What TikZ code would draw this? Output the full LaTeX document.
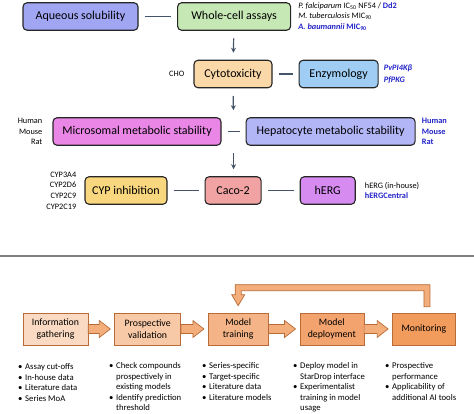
\documentclass[tikz,border=0pt]{standalone}
\usepackage{fontspec}
\setmainfont{Carlito}
\usepackage{tikz}
\usetikzlibrary{arrows.meta,calc,positioning}
\definecolor{slategray}{HTML}{44546A}
\definecolor{azulref}{HTML}{2222C8}
\definecolor{periwinkle}{HTML}{A0A6F2}
\definecolor{mintgreen}{HTML}{C6E8B5}
\definecolor{apricot}{HTML}{FAD8A8}
\definecolor{skyblue}{HTML}{9FCDF3}
\definecolor{orchid}{HTML}{E986E6}
\definecolor{lavender}{HTML}{B2B5F6}
\definecolor{mustard}{HTML}{F9D77E}
\definecolor{salmonpink}{HTML}{F1A3A3}
\definecolor{violeta}{HTML}{D68BF1}
\definecolor{naranjaA}{HTML}{FADAC2}
\definecolor{naranjaB}{HTML}{F8C9A6}
\definecolor{naranjaC}{HTML}{F5B487}
\definecolor{naranjaD}{HTML}{F3A36D}
\definecolor{naranjaE}{HTML}{F19B5D}
\definecolor{naranjaborde}{HTML}{B86B36}
\definecolor{naranjaflecha}{HTML}{F4AE7C}
\newcommand{\bala}{\makebox[7pt][l]{\textbullet}}
\newcommand{\sigue}{\hspace*{7pt}}
\tikzset{
  ensayo/.style={
    rounded corners=4pt,
    draw=black!85,
    line width=1.1pt,
    align=center,
    minimum height=27.5pt,
    inner sep=2pt,
    font=\fontsize{12}{14}\selectfont
  },
  nota/.style={
    inner sep=0pt,
    font=\fontsize{8.3}{10.6}\selectfont
  },
  notaazul/.style={
    inner sep=0pt,
    text=azulref,
    font=\fontsize{8.3}{10.6}\selectfont\bfseries
  },
  enlace/.style={
    line width=1.3pt,
    slategray,
    shorten <=6pt,
    shorten >=6pt
  },
  flecha/.style={
    -{Stealth[length=5pt,width=5pt]},
    line width=1.2pt,
    slategray,
    shorten <=7.5pt,
    shorten >=7pt
  },
  etapa/.style={
    draw=naranjaborde,
    line width=0.6pt,
    align=center,
    minimum height=32pt,
    inner sep=2pt,
    font=\fontsize{9.8}{12.5}\selectfont
  },
  bloque/.style={
    draw=naranjaborde,
    line width=0.7pt,
    fill=naranjaflecha
  },
  vinetas/.style={
    anchor=north west,
    align=left,
    inner sep=0pt,
    font=\fontsize{8.7}{10.5}\selectfont
  }
}

\begin{document}
\begin{tikzpicture}[x=1pt,y=-1pt]
\useasboundingbox (0,0) rectangle (474,414);

% cribado
\node[ensayo,fill=periwinkle,minimum width=115pt] (aq) at (80.5,16.5) {Aqueous solubility};
\node[ensayo,fill=mintgreen,minimum width=113pt,right=38.5pt of aq] (whole) {Whole-cell assays};
\node[ensayo,fill=apricot,minimum width=78pt] (cyto) at (233,74) {Cytotoxicity};
\node[ensayo,fill=skyblue,minimum width=79pt,right=26pt of cyto] (enzy) {Enzymology};
\node[ensayo,fill=orchid,minimum width=168pt] (micro) at (137,131.5) {Microsomal metabolic stability};
\node[ensayo,fill=lavender,minimum width=169pt,right=24pt of micro] (hepato) {Hepatocyte metabolic stability};
\node[ensayo,fill=mustard,minimum width=82pt] (cyp) at (126,190.5) {CYP inhibition};
\node[ensayo,fill=salmonpink,minimum width=56pt,right=37pt of cyp] (caco) {Caco-2};
\node[ensayo,fill=violeta,minimum width=55pt,right=38pt of caco] (herg) {hERG};
\coordinate (nudo) at ($(micro.east)!0.5!(hepato.west)$);

% notas
\node[nota,align=left,right=7pt of whole] (patogenos) {\textit{P. falciparum} IC\textsubscript{50} NF54 / \textcolor{azulref}{\textbf{Dd2}}\\\textit{M. tuberculosis} MIC\textsubscript{90}\\\textcolor{azulref}{\textbf{\textit{A. baumannii} MIC\textsubscript{90}}}};
\node[nota,left=9pt of cyto] (cho) {CHO};
\node[notaazul,align=left,right=5pt of enzy] (dianas) {\textit{PvPI4Kβ}\\[1pt]\textit{PfPKG}};
\node[nota,align=right,left=10pt of micro] (especiesA) {Human\\Mouse\\Rat};
\node[notaazul,align=left,right=6pt of hepato] (especiesB) {Human\\Mouse\\Rat};
\node[nota,align=right,left=8pt of cyp] (isoformas) {CYP3A4\\CYP2D6\\CYP2C9\\CYP2C19};
\node[nota,align=left,right=9pt of herg] (canal) {hERG (in-house)\\\textcolor{azulref}{\textbf{hERGCentral}}};

\draw[enlace] (aq) -- (whole);
\draw[enlace] (cyto) -- (enzy);
\draw[enlace] (micro) -- (hepato);
\draw[enlace] (cyp) -- (caco);
\draw[enlace] (caco) -- (herg);
\draw[flecha] (whole) -- (cyto);
\draw[flecha] (cyto.south) -- (nudo |- micro.north);
\draw[flecha] (nudo |- micro.south) -- (nudo |- caco.north);

\draw[black!50,line width=1.2pt] (0,256) -- (474,256);

% ciclo de modelos
\node[etapa,fill=naranjaA,minimum width=65pt] (info) at (55.5,329) {Information\\gathering};
\node[etapa,fill=naranjaB,minimum width=66pt,right=26pt of info] (prosp) {Prospective\\validation};
\node[etapa,fill=naranjaC,minimum width=60pt,right=27pt of prosp] (train) {Model\\training};
\node[etapa,fill=naranjaD,minimum width=64pt,right=31pt of train] (deploy) {Model\\deployment};
\node[etapa,fill=naranjaE,minimum width=63pt,right=28pt of deploy] (mon) {Monitoring};

\foreach \a/\b in {info/prosp,prosp/train,train/deploy,deploy/mon}
  \path[bloque] let \p1=(\a.east), \p2=(\b.west) in
    (\x1,\y1+4.5pt) -- (\x2-15pt,\y1+4.5pt) -- (\x2-15pt,\y1+8.5pt) -- (\x2-4pt,\y1)
    -- (\x2-15pt,\y1-8.5pt) -- (\x2-15pt,\y1-4.5pt) -- (\x1,\y1-4.5pt) -- cycle;
\path[bloque] let \p1=(mon.north), \p2=(train.north) in
  (\x1,\y1+6pt) -- (\x1,\y1+22pt) -- (\x2+3pt,\y1+22pt) -- (\x2+3pt,\y2+18pt)
  -- (\x2+6.5pt,\y2+18pt) -- (\x2,\y2+7pt) -- (\x2-6.5pt,\y2+18pt) -- (\x2-3pt,\y2+18pt)
  -- (\x2-3pt,\y1+28pt) -- (\x1+6pt,\y1+28pt) -- (\x1+6pt,\y1+6pt) -- cycle;

\node[vinetas] (listaA) at (18,363.5) {\bala Assay cut-offs\\\bala In-house data\\\bala Literature data\\\bala Series MoA};
\node[vinetas] (listaB) at (109,362.5) {\bala Check compounds\\\sigue prospectively in\\\sigue existing models\\\bala Identify prediction\\\sigue threshold};
\node[vinetas] (listaC) at (202,362.5) {\bala Series-specific\\\bala Target-specific\\\bala Literature data\\\bala Literature models};
\node[vinetas] (listaD) at (293,362.5) {\bala Deploy model in\\\sigue StarDrop interface\\\bala Experimentalist\\\sigue training in model\\\sigue usage};
\node[vinetas] (listaE) at (385,362.5) {\bala Prospective\\\sigue performance\\\bala Applicability of\\\sigue additional AI tools};
\end{tikzpicture}
\end{document}
